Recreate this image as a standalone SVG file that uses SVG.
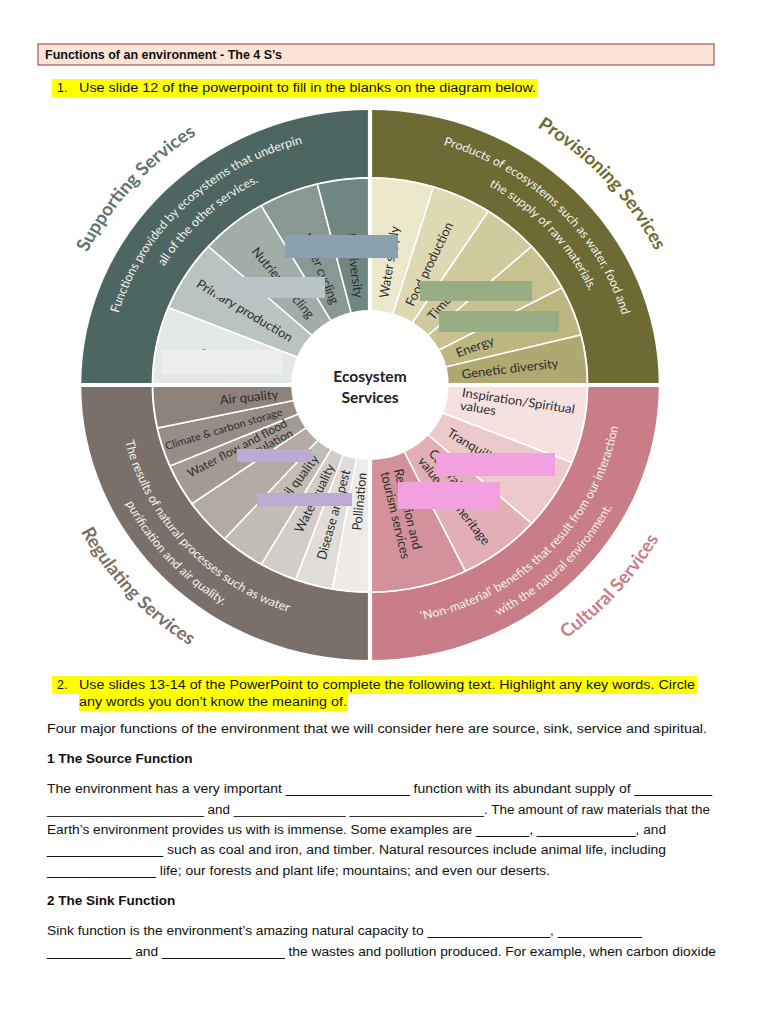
<svg xmlns="http://www.w3.org/2000/svg" width="768" height="1024" viewBox="0 0 768 1024">
<style>
.doc{font-family:"Liberation Sans",Arial,sans-serif;font-size:12.5px;fill:#111}
.b{font-weight:bold}
.seg{stroke:#fff;stroke-width:1.5}
.lbl{font-family:Lato,"Open Sans",sans-serif;font-size:12.5px;fill:#2e2e2e}
.band{font-family:Lato,"Open Sans",sans-serif;font-size:12px;fill:#f2f2ee}
.ttl{font-family:Lato,"Open Sans",sans-serif;font-size:18px;font-weight:bold}
</style>
<rect width="768" height="1024" fill="#fff"/>
<g id="header">
<rect x="38" y="44" width="676" height="21" fill="#fbe4d5" stroke="#8b3a3a" stroke-width="1"/>
<text class="doc b" x="45" y="59">Functions of an environment - The 4 S’s</text>
</g>
<g id="q1">
<rect x="52" y="79" width="486" height="18" fill="#ffff00"/>
<text class="doc" x="57" y="92">1.</text>
<text class="doc" x="79" y="92" textLength="457" lengthAdjust="spacingAndGlyphs">Use slide 12 of the powerpoint to fill in the blanks on the diagram below.</text>
</g>
<defs>
<path id="tlT" d="M-300,0 A300,300 0 0 1 0,-300"/>
<path id="trT" d="M0,-303 A303,303 0 0 1 303,0"/>
<path id="blT" d="M-312,0 A312,312 0 0 0 0,312"/>
<path id="brT" d="M0,315 A315,315 0 0 0 315,0"/>
<path id="tl1" d="M-250,0 A250,250 0 0 1 0,-250"/>
<path id="tl2" d="M-229,0 A229,229 0 0 1 0,-229"/>
<path id="tr1" d="M0,-250 A250,250 0 0 1 250,0"/>
<path id="tr2" d="M0,-229 A229,229 0 0 1 229,0"/>
<path id="bl1" d="M-240,0 A240,240 0 0 0 0,240"/>
<path id="bl2" d="M-261,0 A261,261 0 0 0 0,261"/>
<path id="br1" d="M0,240 A240,240 0 0 0 240,0"/>
<path id="br2" d="M0,261 A261,261 0 0 0 261,0"/>
</defs>
<g id="wheel" transform="translate(370,385) scale(1.05,1)">
<g id="bands">
<path d="M0,0 L-275,0 A275,275 0 0 1 0,-275 Z" fill="#4e6662"/>
<path d="M0,0 L0,-275 A275,275 0 0 1 275,0 Z" fill="#6d6a33"/>
<path d="M0,0 L275,0 A275,275 0 0 1 0,275 Z" fill="#c97d86"/>
<path d="M0,0 L0,275 A275,275 0 0 1 -275,0 Z" fill="#7b7069"/>
</g>
<circle r="208" fill="#fff"/>
<g id="supporting-segs" class="seg">
<path d="M0,0 L-207,0 A207,207 0 0 1 -191.9,-77.5 Z" fill="#e4e8e6"/>
<path d="M0,0 L-191.9,-77.5 A207,207 0 0 1 -153.8,-138.5 Z" fill="#b9c3bf"/>
<path d="M0,0 L-153.8,-138.5 A207,207 0 0 1 -103.5,-179.3 Z" fill="#a0ada9"/>
<path d="M0,0 L-103.5,-179.3 A207,207 0 0 1 -50.1,-200.9 Z" fill="#879895"/>
<path d="M0,0 L-50.1,-200.9 A207,207 0 0 1 0,-207 Z" fill="#6f8683"/>
</g>
<g id="provisioning-segs" class="seg">
<path d="M0,0 L0,-207 A207,207 0 0 1 60.5,-198 Z" fill="#ebe8cc"/>
<path d="M0,0 L60.5,-198 A207,207 0 0 1 112.7,-173.6 Z" fill="#ddd9b3"/>
<path d="M0,0 L112.7,-173.6 A207,207 0 0 1 153.8,-138.5 Z" fill="#d0cb9f"/>
<path d="M0,0 L153.8,-138.5 A207,207 0 0 1 182.8,-97.2 Z" fill="#c8c290"/>
<path d="M0,0 L182.8,-97.2 A207,207 0 0 1 200.9,-50.1 Z" fill="#bdb681"/>
<path d="M0,0 L200.9,-50.1 A207,207 0 0 1 207,0 Z" fill="#afa870"/>
</g>
<g id="cultural-segs" class="seg">
<path d="M0,0 L207,0 A207,207 0 0 1 191.9,77.5 Z" fill="#f6e1e1"/>
<path d="M0,0 L191.9,77.5 A207,207 0 0 1 153.8,138.5 Z" fill="#edc9cb"/>
<path d="M0,0 L153.8,138.5 A207,207 0 0 1 90.7,186.1 Z" fill="#e2b0b4"/>
<path d="M0,0 L90.7,186.1 A207,207 0 0 1 0,207 Z" fill="#d3929a"/>
</g>
<g id="regulating-segs" class="seg">
<path d="M0,0 L0,207 A207,207 0 0 1 -35.9,203.9 Z" fill="#eeebe8"/>
<path d="M0,0 L-35.9,203.9 A207,207 0 0 1 -70.8,194.5 Z" fill="#e0dcd8"/>
<path d="M0,0 L-70.8,194.5 A207,207 0 0 1 -103.5,179.3 Z" fill="#d2cdc8"/>
<path d="M0,0 L-103.5,179.3 A207,207 0 0 1 -138.5,153.8 Z" fill="#c2bcb6"/>
<path d="M0,0 L-138.5,153.8 A207,207 0 0 1 -169.6,118.7 Z" fill="#b2aaa3"/>
<path d="M0,0 L-169.6,118.7 A207,207 0 0 1 -190.5,80.9 Z" fill="#a39a93"/>
<path d="M0,0 L-190.5,80.9 A207,207 0 0 1 -202.5,43 Z" fill="#978d86"/>
<path d="M0,0 L-202.5,43 A207,207 0 0 1 -207,0 Z" fill="#8d837b"/>
</g>
<g id="dividers" stroke="#fff" stroke-width="4">
<line x1="0" y1="-280" x2="0" y2="280"/>
<line x1="-280" y1="0" x2="280" y2="0"/>
</g>
<circle id="centre" r="75" fill="#fff"/>
<g id="segment-labels" class="lbl">
<text transform="rotate(83)" x="-88" dy="0.35em" text-anchor="end">Biodiversity</text>
<text transform="rotate(68)" x="-88" dy="0.35em" text-anchor="end">Water cycling</text>
<text transform="rotate(51)" x="-88" dy="0.35em" text-anchor="end">Nutrient cycling</text>
<text transform="rotate(32)" x="-88" dy="0.35em" text-anchor="end">Primary production</text>
<text transform="rotate(11)" x="-88" dy="0.35em" text-anchor="end">Soil formation</text>
<text transform="rotate(278.5)" x="88" dy="0.35em">Water supply</text>
<text transform="rotate(295)" x="88" dy="0.35em">Food production</text>
<text transform="rotate(310.5)" x="88" dy="0.35em">Timber</text>
<text transform="rotate(339)" x="88" dy="0.35em">Energy</text>
<text transform="rotate(353)" x="88" dy="0.35em">Genetic diversity</text>
<text transform="rotate(354)" x="-88" dy="0.35em" text-anchor="end">Air quality</text>
<text transform="rotate(342.5)" x="-88" dy="0.35em" text-anchor="end" font-size="10.5">Climate &amp; carbon storage</text>
<text transform="rotate(331)" text-anchor="end" font-size="11.5"><tspan x="-88" y="-2">Water flow and flood</tspan><tspan x="-88" y="9">regulation</tspan></text>
<text transform="rotate(306)" x="-88" dy="0.35em" text-anchor="end">Soil quality</text>
<text transform="rotate(295)" x="-88" dy="0.35em" text-anchor="end">Water quality</text>
<text transform="rotate(285)" x="-88" dy="0.35em" text-anchor="end">Disease and pest</text>
<text transform="rotate(275)" x="-88" dy="0.35em" text-anchor="end">Pollination</text>
<text transform="rotate(9)"><tspan x="88" y="-2">Inspiration/Spiritual</tspan><tspan x="88" y="11">values</tspan></text>
<text transform="rotate(32)" x="88" dy="0.35em">Tranquility</text>
<text transform="rotate(53)"><tspan x="88" y="-3">Cultural</tspan><tspan x="88" y="10">values and heritage</tspan></text>
<text transform="rotate(77)"><tspan x="88" y="-3">Recreation and</tspan><tspan x="88" y="10">tourism services</tspan></text>
</g>
<g id="band-text" class="band" text-anchor="middle">
<text><textPath href="#tl1" startOffset="51%">Functions provided by ecosystems that underpin</textPath></text>
<text><textPath href="#tl2" startOffset="52%">all of the other services.</textPath></text>
<text><textPath href="#tr1" startOffset="50%">Products of ecosystems such as water, food and</textPath></text>
<text><textPath href="#tr2" startOffset="53%">the supply of raw materials.</textPath></text>
<text><textPath href="#bl1" startOffset="47%">The results of natural processes such as water</textPath></text>
<text><textPath href="#bl2" startOffset="47%">purification and air quality.</textPath></text>
<text><textPath href="#br1" startOffset="51%">‘Non-material’ benefits that result from our interaction</textPath></text>
<text><textPath href="#br2" startOffset="50%">with the natural environment.</textPath></text>
</g>
<g id="titles" class="ttl" text-anchor="middle">
<text fill="#5f7471"><textPath href="#tlT" startOffset="46%">Supporting Services</textPath></text>
<text fill="#6d6a33"><textPath href="#trT" startOffset="53%">Provisioning Services</textPath></text>
<text fill="#7b7069"><textPath href="#blT" startOffset="47%">Regulating Services</textPath></text>
<text fill="#c97d86"><textPath href="#brT" startOffset="54%">Cultural Services</textPath></text>
</g>
</g>
<g id="centre-label" font-family="Lato,'Open Sans',sans-serif" font-size="15.5" font-weight="bold" fill="#222" text-anchor="middle">
<text x="370" y="382">Ecosystem</text>
<text x="370" y="403">Services</text>
</g>
<g id="blanks">
<rect x="285" y="235" width="113" height="23" fill="#8aa2b0"/>
<rect x="215" y="277" width="110" height="21" fill="#b9c4c6"/>
<rect x="162" y="350" width="120" height="24" fill="#eeeeee"/>
<rect x="420" y="281" width="112" height="20" fill="#97ad84"/>
<rect x="439" y="311" width="120" height="21" fill="#97ad84"/>
<rect x="237" y="449" width="75" height="13" fill="#bcaad4"/>
<rect x="257" y="493" width="95" height="13" fill="#bcaad4"/>
<rect x="436" y="453" width="119" height="23" fill="#f2a0e0"/>
<rect x="398" y="482" width="102" height="27" fill="#f2a0e0"/>
</g>
<g id="q2">
<rect x="52" y="676" width="645" height="18" fill="#ffff00"/>
<rect x="79" y="694" width="269" height="17" fill="#ffff00"/>
<text class="doc" x="57" y="689">2.</text>
<text class="doc" x="79" y="689" textLength="616" lengthAdjust="spacingAndGlyphs">Use slides 13-14  of the PowerPoint to complete the following text. Highlight any key words. Circle</text>
<text class="doc" x="79" y="706" textLength="268" lengthAdjust="spacingAndGlyphs">any words you don’t know the meaning of.</text>
</g>
<g id="body" class="doc">
<text x="47" y="733" textLength="660" lengthAdjust="spacingAndGlyphs">Four major functions of the environment that we will consider here are source, sink, service and spiritual.</text>
<text class="b" x="47" y="763" font-size="13.5">1 The Source Function</text>
<text x="47" y="793" textLength="665" lengthAdjust="spacingAndGlyphs">The environment has a very important ________________ function with its abundant supply of __________</text>
<text x="47" y="814" textLength="663" lengthAdjust="spacingAndGlyphs">_____________________ and _______________ __________________. The amount of raw materials that the</text>
<text x="47" y="834" textLength="619" lengthAdjust="spacingAndGlyphs">Earth’s environment provides us with is immense. Some examples are _______, _____________, and</text>
<text x="47" y="854" textLength="619" lengthAdjust="spacingAndGlyphs">_______________ such as coal and iron, and timber. Natural resources include animal life, including</text>
<text x="47" y="875" textLength="503" lengthAdjust="spacingAndGlyphs">______________ life; our forests and plant life; mountains; and even our deserts.</text>
<text class="b" x="47" y="905" font-size="13.5">2 The Sink Function</text>
<text x="47" y="935" textLength="595" lengthAdjust="spacingAndGlyphs">Sink function is the environment’s amazing natural capacity to ________________, ___________</text>
<text x="47" y="956" textLength="669" lengthAdjust="spacingAndGlyphs">___________ and ________________ the wastes and pollution produced. For example, when carbon dioxide</text>
</g>
</svg>
